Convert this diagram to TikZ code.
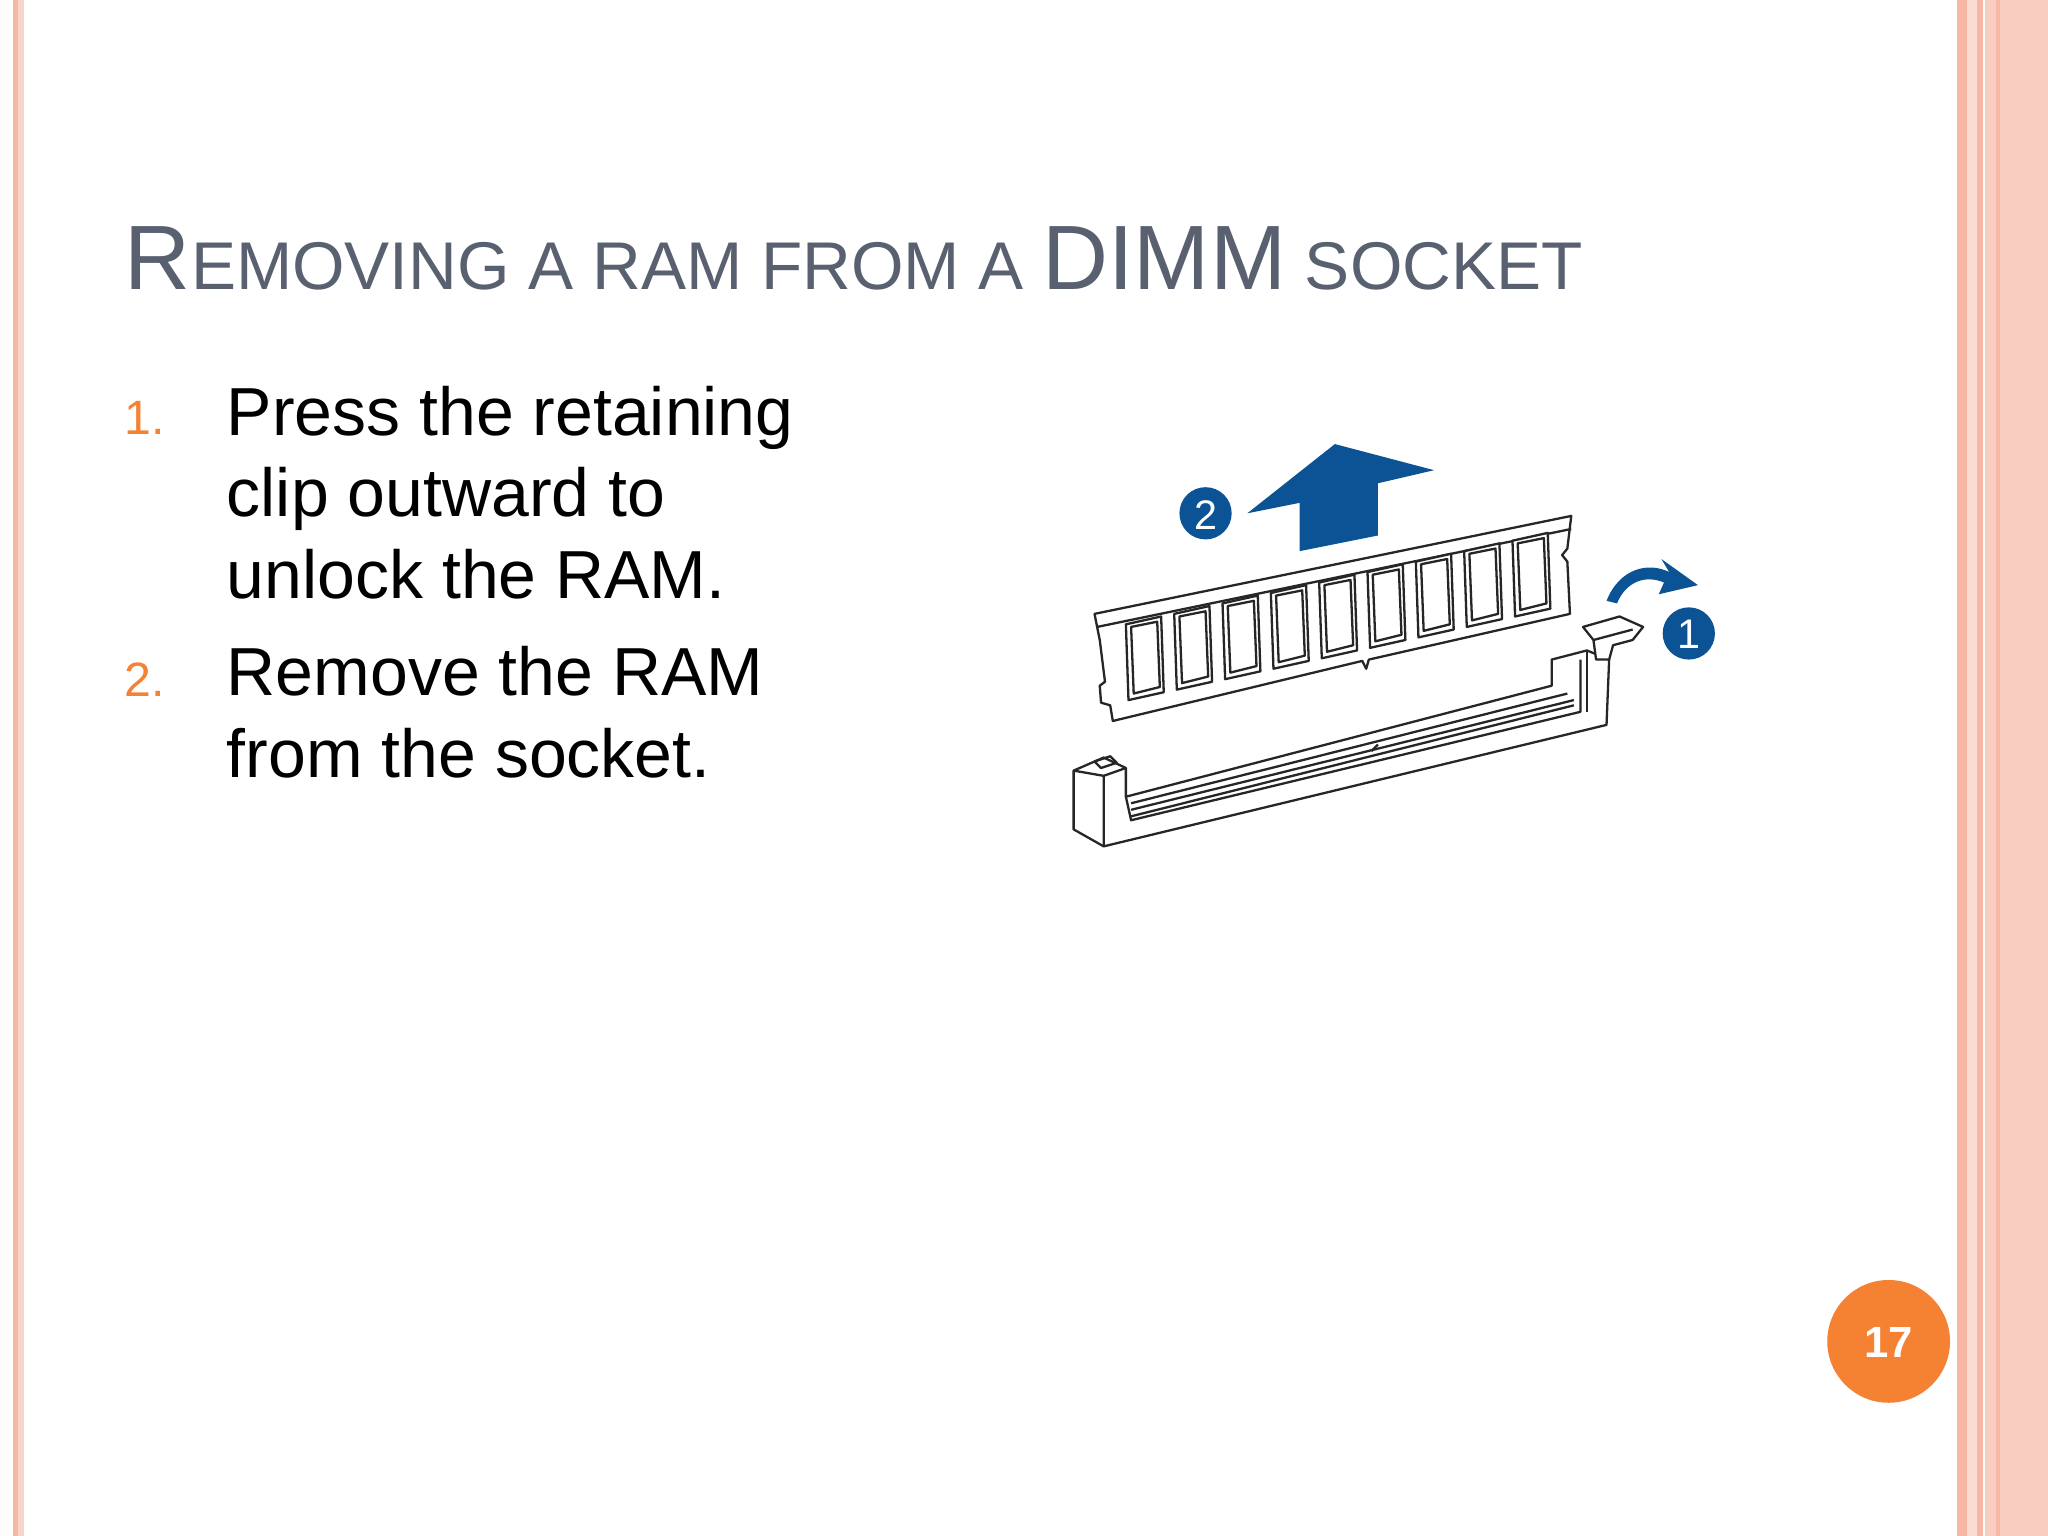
\documentclass[tikz,border=0pt]{standalone}
\usepackage{fontspec}
\setmainfont{Liberation Sans}
\begin{document}
\begin{tikzpicture}[x=0.01cm,y=-0.01cm,
  ln/.style={draw=black!85,line width=0.5pt,line join=round},
  body/.style={anchor=base west,align=left,inner sep=0,font=\fontsize{14.8}{17.7}\selectfont}]
\definecolor{bl}{HTML}{0B5394}
\definecolor{org}{HTML}{F58233}
\definecolor{pk}{HTML}{F6B8A5}
\definecolor{tt}{HTML}{596070}
\useasboundingbox (0,0) rectangle (1568,1176);
\fill[white!97!orange!40] (0,0) rectangle (1568,1176);
\fill[white] (18,0) rectangle (1498,1176);
% borders
\fill[pk] (10,0) rectangle (14,1176);
\fill[pk!60] (14,0) rectangle (18,1176);
\fill[pk] (1498,0) rectangle (1506,1176);
\fill[pk!50] (1506,0) rectangle (1514,1176);
\fill[pk] (1514,0) rectangle (1518,1176);
\fill[pk!70] (1520,0) rectangle (1568,1176);
\fill[pk] (1528,0) rectangle (1531,1176);
% title
\node[anchor=base west,text=tt,inner sep=0] (title) at (95,222)
 {\fontsize{19.9}{24}\selectfont R\fontsize{14.7}{18}\selectfont EMOVING A RAM FROM A \fontsize{19.9}{24}\selectfont DIMM\fontsize{14.7}{18}\selectfont{} SOCKET};
% list
\node[anchor=base west,text=org,inner sep=0] (n1) at (95,333) {\fontsize{10.5}{12}\selectfont 1.};
\node[anchor=base west,text=org,inner sep=0] (n2) at (95,533) {\fontsize{10.5}{12}\selectfont 2.};
\node[body] (t1) at (173,458) {Press the retaining\\clip outward to\\unlock the RAM.};
\node[body] (t2) at (173,595) {Remove the RAM\\from the socket.};
% page number
\fill[org] (1446,1027) circle (47);
\node[text=white,font=\bfseries\fontsize{9.5}{11}\selectfont] (pg) at (1446,1028) {17};
% socket
\draw[ln,fill=white] (822,590) -- (845,580) -- (862,588) -- (862,610) -- (1188,525) -- (1188,505) -- (1215,498) -- (1232,505) -- (1230,555) -- (845,648) -- (822,635) -- cycle;
\draw[ln] (845,648) -- (845,594) -- (822,590);
\draw[ln] (845,594) -- (862,588);
\draw[ln] (862,610) -- (866,628) -- (1210,545) -- (1210,505);
\draw[ln] (866,625) -- (1205,540);
\draw[ln] (866,620) -- (1205,536);
\draw[ln] (866,615) -- (1200,531);
\draw[ln] (1050,575) -- (1055,570);
\draw[ln] (1215,498) -- (1215,545);
\draw[ln] (838,583) -- (850,579) -- (855,584) -- (843,588) -- cycle;
% clip
\draw[ln,fill=white] (1212,480) -- (1240,472) -- (1258,480) -- (1250,490) -- (1235,494) -- (1232,505) -- (1222,505) -- (1220,490) -- cycle;
\draw[ln] (1220,490) -- (1250,482);
% module
\draw[ln,fill=white] (838,470) -- (1203,395) -- (1200,420) -- (1196,425) -- (1200,430) -- (1202,470) -- (1048,505) -- (1046,512) -- (1043,506) -- (852,552) -- (850,540) -- (843,538) -- (842,525) -- (846,522) -- (842,490) -- cycle;
\draw[ln] (840,480) -- (1203,405);
\foreach \i in {0,...,8}{
  \pgfmathsetmacro\xa{862+\i*37}
  \pgfmathsetmacro\ya{478-\i*8}
  \draw[ln,fill=white] (\xa,\ya) -- (\xa+27,\ya-6) -- (\xa+29,\ya+52) -- (\xa+2,\ya+58) -- cycle;
  \draw[ln] (\xa+4,\ya+2) -- (\xa+24,\ya-2) -- (\xa+26,\ya+48) -- (\xa+6,\ya+53) -- cycle;
}
% arrow 2
\fill[bl] (995,422) -- (995,385) -- (955,393) -- (1022,340) -- (1098,360) -- (1055,370) -- (1055,410) -- cycle;
\fill[bl] (923,393) circle (20);
\node[text=white,font=\fontsize{9}{10}\selectfont] (c2) at (923,394) {2};
% arrow 1
\fill[bl] (1293,485) circle (20);
\node[text=white,font=\fontsize{9}{10}\selectfont] (c1) at (1293,486) {1};
\fill[bl] (1230,460) .. controls (1240,435) and (1262,430) .. (1278,438) -- (1272,428) -- (1300,448) -- (1270,455) -- (1274,446) .. controls (1260,440) and (1245,445) .. (1238,462) -- cycle;
\end{tikzpicture}
\end{document}
